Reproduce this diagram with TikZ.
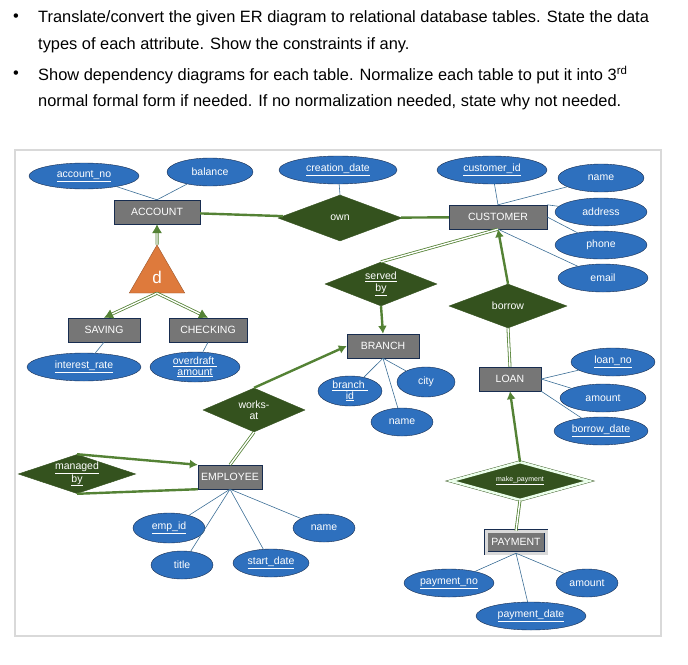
\documentclass[tikz,border=0pt]{standalone}
\usepackage{fontspec}
\setmainfont{Liberation Sans}
\usetikzlibrary{shapes.geometric,arrows.meta}
\definecolor{erBlue}{RGB}{46,112,190}
\definecolor{erNavy}{RGB}{24,45,80}
\definecolor{erGray}{RGB}{118,118,118}
\definecolor{erDark}{RGB}{52,82,30}
\definecolor{erGreen}{RGB}{84,130,53}
\definecolor{erOrange}{RGB}{222,122,60}
\definecolor{erLine}{RGB}{60,110,150}
\tikzset{
  attr/.style={ellipse, draw=erNavy, fill=erBlue, text=white, inner sep=0pt, minimum height=28pt},
  ent/.style={rectangle, draw=erNavy, fill=erGray, text=white, minimum height=24pt, inner sep=2pt},
  rel/.style={diamond, draw=erDark, fill=erDark, text=white, inner sep=0pt, aspect=3, align=center},
  att/.style={erLine, line width=0.6pt},
  thk/.style={erGreen, line width=2.4pt},
  dbl/.style={erGreen, double=white, double distance=1.4pt, line width=0.8pt},
}
\begin{document}
\begin{tikzpicture}[x=1pt, y=-1pt, font=\fontsize{10.5}{11.5}\selectfont]
\useasboundingbox (0,0) rectangle (688,664);

% task text
\begin{scope}[font=\fontsize{16.4}{19}\selectfont, anchor=west, inner sep=0pt]
\node (b1) at (13,18) {\textbullet};
\node (t1) at (38,18) {Translate/convert the given ER diagram to relational database tables. State the data};
\node (t2) at (38,45) {types of each attribute. Show the constraints if any.};
\node (b2) at (13,75) {\textbullet};
\node (t3) at (38,75) {Show dependency diagrams for each table. Normalize each table to put it into 3\textsuperscript{rd}};
\node (t4) at (38,102) {normal formal form if needed. If no normalization needed, state why not needed.};
\end{scope}
\draw[black!15, line width=2pt] (15,150) rectangle (661,636);

% entities
\node[ent, minimum width=86pt] (account) at (157,212) {ACCOUNT};
\node[ent, minimum width=98pt] (customer) at (498,217) {CUSTOMER};
\node[ent, minimum width=72pt] (saving) at (104,330) {SAVING};
\node[ent, minimum width=78pt] (checking) at (208,330) {CHECKING};
\node[ent, minimum width=72pt] (branch) at (383,346) {BRANCH};
\node[ent, minimum width=62pt] (loan) at (510,379) {LOAN};
\node[ent, minimum width=64pt] (employee) at (230,477) {EMPLOYEE};
\node[ent, minimum width=60pt, minimum height=22pt, double=white!85!black, double distance=3pt] (payment) at (516,542) {PAYMENT};
\node[regular polygon, regular polygon sides=3, fill=erOrange, draw=erOrange!70!black, minimum size=64pt, inner sep=0pt, text=white, font=\fontsize{17}{17}\selectfont] (d) at (157,277) {d};

% relationships
\node[rel, minimum width=124pt, minimum height=46pt] (own) at (340,218) {own};
\node[rel, minimum width=112pt, minimum height=44pt] (servedby) at (381,284) {\underline{served}\\\underline{by}};
\node[rel, minimum width=118pt, minimum height=44pt] (borrow) at (508,306) {borrow};
\node[rel, minimum width=102pt, minimum height=44pt] (worksat) at (254,410) {works-\\at};
\node[rel, minimum width=110pt, minimum height=36pt] (managedby) at (77,474) {\underline{managed}\\\underline{by}};
\node[rel, minimum width=138pt, minimum height=38pt, draw=erDark, double=green!8, double distance=2.5pt, font=\fontsize{7}{8}\selectfont] (makepay) at (520,481) {\underline{make\_payment}};

% attributes
\node[attr, minimum width=110pt, minimum height=26pt] (accno) at (84,176) {\underline{account\_no}};
\node[attr, minimum width=86pt] (balance) at (210,172) {balance};
\node[attr, minimum width=118pt] (cdate) at (338,170) {\underline{creation\_date}};
\node[attr, minimum width=110pt] (custid) at (492,170) {\underline{customer\_id}};
\node[attr, minimum width=86pt] (cname) at (601,178) {name};
\node[attr, minimum width=92pt] (address) at (601,212) {address};
\node[attr, minimum width=92pt] (phone) at (601,245) {phone};
\node[attr, minimum width=90pt] (email) at (603,278) {email};
\node[attr, minimum width=114pt] (irate) at (84,367) {\underline{interest\_rate}};
\node[attr, minimum width=90pt, minimum height=30pt, align=center, font=\fontsize{10.5}{10.5}\selectfont] (odraft) at (195,367) {\underline{overdraft\ }\\\underline{amount}};
\node[attr, minimum width=64pt, minimum height=30pt, align=center, font=\fontsize{10.5}{10.5}\selectfont] (branchid) at (350,391) {\underline{branch\ }\\\underline{id}};
\node[attr, minimum width=58pt, minimum height=30pt] (city) at (426,382) {city};
\node[attr, minimum width=62pt] (bname) at (402,422) {name};
\node[attr, minimum width=84pt] (loanno) at (613,362) {\underline{loan\_no}};
\node[attr, minimum width=86pt] (lamount) at (603,398) {amount};
\node[attr, minimum width=94pt] (bdate) at (601,431) {\underline{borrow\_date}};
\node[attr, minimum width=72pt, minimum height=30pt] (empid) at (169,528) {\underline{emp\_id}};
\node[attr, minimum width=62pt] (ename) at (324,528) {name};
\node[attr, minimum width=62pt] (title) at (182,565) {title};
\node[attr, minimum width=76pt] (sdate) at (271,563) {\underline{start\_date}};
\node[attr, minimum width=90pt] (payno) at (449,583) {\underline{payment\_no}};
\node[attr, minimum width=62pt] (pamount) at (587,583) {amount};
\node[attr, minimum width=110pt] (pdate) at (531,616) {\underline{payment\_date}};

% attribute links
\begin{scope}[att]
\draw (accno) -- (account.north);
\draw (balance) -- (account.north);
\draw (cdate) -- (own.north);
\draw (custid) -- (customer.north);
\draw (cname) -- (customer.north);
\draw (address) -- (customer.north east);
\draw (phone) -- (customer.east);
\draw (email) -- (customer.south);
\draw (irate) -- (saving.south);
\draw (odraft) -- (checking.south);
\draw (branchid) -- (branch.south);
\draw (city) -- (branch.south);
\draw (bname) -- (branch.south);
\draw (loanno) -- (loan.east);
\draw (lamount) -- (loan.east);
\draw (bdate) -- (loan.south east);
\draw (empid) -- (employee.south);
\draw (ename) -- (employee.south);
\draw (title) -- (employee.south);
\draw (sdate) -- (employee.south);
\draw (payno) -- (payment.south);
\draw (pamount) -- (payment.south);
\draw (pdate) -- (payment.south);
\end{scope}

% relationship links
\draw[thk] (account) -- (own);
\draw[thk] (own) -- (customer);
\draw[dbl, -{Latex[length=9pt,width=10pt]}] (d.north) -- (account.south);
\coordinate (dbase) at (d.side 2 -| d.north);
\draw[dbl, -{Latex[length=9pt,width=10pt]}] (dbase) -- (saving.north);
\draw[dbl, -{Latex[length=9pt,width=10pt]}] (dbase) -- (checking.north);
\draw[dbl] (servedby.north) -- (customer.south);
\draw[thk, -{Latex[length=8pt,width=9pt]}] (servedby.south) -- (branch.north);
\draw[thk, -{Latex[length=8pt,width=9pt]}] (borrow.north) -- (customer.south);
\draw[dbl] (borrow.south) -- (loan.north);
\draw[thk, -{Latex[length=8pt,width=9pt]}] (worksat.north) -- (branch.west);
\draw[dbl] (worksat.south) -- (employee.north);
\draw[thk, -{Latex[length=8pt,width=9pt]}] (managedby.north) -- (employee.north west);
\draw[thk] (managedby.south) -- (employee.south west);
\draw[thk, -{Latex[length=8pt,width=9pt]}] (makepay.north) -- (loan.south);
\draw[dbl] (makepay.south) -- (payment.north);
\end{tikzpicture}
\end{document}
